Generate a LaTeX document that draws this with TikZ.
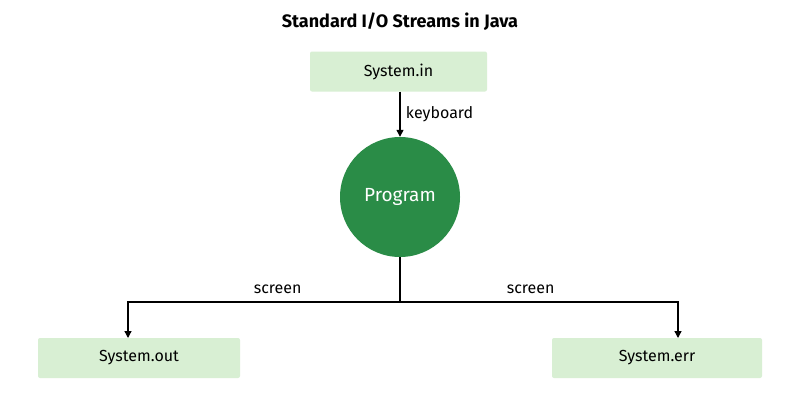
\documentclass[tikz,border=0pt]{standalone}
\usepackage{fontspec}
\setmainfont{Fira Sans}
\usetikzlibrary{arrows.meta}
\definecolor{boxg}{HTML}{D8EFD3}
\definecolor{progg}{HTML}{2A8C47}
\tikzset{
  iobox/.style={fill=boxg, draw=none, rounded corners=2pt, minimum height=40pt, font=\fontsize{16}{18}\selectfont},
  conn/.style={draw=black, line width=1.3pt, -{Triangle[length=7pt,width=7pt]}},
  lbl/.style={font=\fontsize{16}{18}\selectfont}
}
\begin{document}
\begin{tikzpicture}[x=1pt,y=-1pt]
\useasboundingbox[fill=white] (0,0) rectangle (800,400);
\node[font=\bfseries\fontsize{18}{20}\selectfont] (title) at (400,22) {Standard I/O Streams in Java};
\node[iobox, minimum width=177pt] (in) at (398.5,71.5) {System.in};
\node[circle, fill=progg, minimum size=120pt, text=white, font=\fontsize{19}{22}\selectfont] (prog) at (400,197) {Program};
\node[iobox, minimum width=202pt] (out) at (139,358) {System.out};
\node[iobox, minimum width=210pt] (err) at (657,358) {System.err};
\coordinate (j) at (400,302);
\draw[conn] (in.south -| prog.north) -- node[lbl, right, xshift=2pt] {keyboard} (prog.north);
\draw[line width=1.3pt] (prog.south) -- (j);
\draw[conn] (j) -- node[lbl, above, pos=0.45, yshift=4pt] {screen} (128,302) -- (128,338);
\draw[conn] (j) -- node[lbl, above, pos=0.47, yshift=4pt] {screen} (678,302) -- (678,338);
\end{tikzpicture}
\end{document}
